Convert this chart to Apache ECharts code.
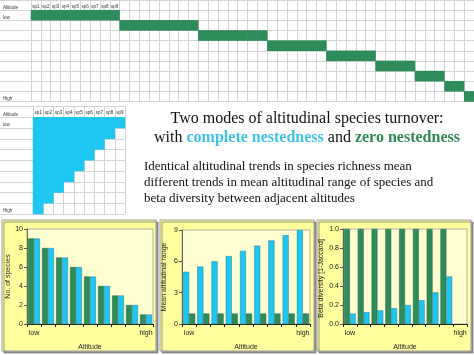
<!DOCTYPE html>
<html><head><meta charset="utf-8">
<script src="https://cdn.jsdelivr.net/npm/echarts@6/dist/echarts.min.js"></script>
<style>html,body{margin:0;padding:0;background:#fff}#c{width:474px;height:355px}</style>
</head><body><div id="c"></div><script>
// ---- data ----
const speciesHeaders = ['sp1','sp2','sp3','sp4','sp5','sp6','sp7','sp8','sp9'];
const tableRowLabels = ['Altitude','low','','','','','','','','High'];
const zeroNestRichness = [9,8,7,6,5,4,3,2,1];      // species per altitude, zero nestedness table
const nestedRichness = [9,8,7,6,5,4,3,2,1];        // species per altitude, complete nestedness table
const altitudeCats = ['low','','','','','','','','high'];
const richGreen = [9,8,7,6,5,4,3,2,1];
const richBlue = [9,8,7,6,5,4,3,2,1];
const rangeBlue = [5,5.5,6,6.5,7,7.5,8,8.5,9];
const rangeGreen = [1,1,1,1,1,1,1,1,1];
const betaGreen = [1,1,1,1,1,1,1,1,null];
const betaBlue = [0.11,0.125,0.143,0.167,0.2,0.25,0.333,0.5,null];

const GREEN = '#2e8b5a', BLUE = '#1ec6f2', LINE = '#d4d4d4';
const SANS = 'Liberation Sans, Arial, sans-serif', SERIF = 'Liberation Serif, Times New Roman, serif';

// build table cells
const totalSpecies = zeroNestRichness.reduce((a,b)=>a+b,0);
const topX = []; for (let i=0;i<totalSpecies;i++) topX.push(i<speciesHeaders.length?speciesHeaders[i]:'');
const topCells = []; let start = 0;
zeroNestRichness.forEach((n,r)=>{ for(let c=start;c<start+n;c++) topCells.push([c,r+1,1]); start+=n; });
const nestCells = [];
nestedRichness.forEach((n,r)=>{ for(let c=0;c<n;c++) nestCells.push([c,r+1,1]); });

const chart = echarts.init(document.getElementById('c'), null, {renderer:'canvas'});

const grids = [
  {left:0, top:0, width:474, height:101.5},                // 0 top table horizontal lines
  {left:29, top:0, width:445, height:101.5},               // 1 top table cells
  {left:0, top:106.5, width:125, height:107.5},            // 2 nested table horizontal lines
  {left:31, top:106.5, width:94, height:107.5},            // 3 nested table cells
  {left:27, top:229, width:126, height:95, show:true, backgroundColor:'#ffffd2', borderColor:'#a0a0a0', borderWidth:0.8},
  {left:182, top:230, width:128, height:94, show:true, backgroundColor:'#ffffd2', borderColor:'#a0a0a0', borderWidth:0.8},
  {left:343, top:229, width:124, height:95, show:true, backgroundColor:'#ffffd2', borderColor:'#a0a0a0', borderWidth:0.8}
];

const hidden = {show:false};
const lineSplit = {show:true, interval:0, lineStyle:{color:LINE, width:1}};
const tinyLbl = {fontSize:4.5, color:'#333', fontFamily:SANS};

function chartX(gi){
  return {type:'category', gridIndex:gi, data:altitudeCats, boundaryGap:true,
    axisLine:{lineStyle:{color:'#222', width:1}},
    axisTick:{show:true, interval:0, length:3, lineStyle:{color:'#222'}},
    axisLabel:{interval:0, fontSize:7, color:'#222', fontFamily:SANS, margin:6},
    name:'Altitude', nameLocation:'middle', nameGap:20, nameTextStyle:{fontSize:7, color:'#222', fontFamily:SANS}};
}
function chartY(gi, max, interval, name, gap, fmt){
  return {type:'value', gridIndex:gi, min:0, max:max, interval:interval,
    axisLine:{show:true, lineStyle:{color:'#666', width:1}},
    axisTick:{show:true, length:3, lineStyle:{color:'#555'}},
    axisLabel:{fontSize:7, color:'#222', fontFamily:SANS, margin:4, formatter:fmt},
    splitLine:{show:false},
    name:name, nameLocation:'middle', nameRotate:90, nameGap:gap, nameTextStyle:{fontSize:7, color:'#222', fontFamily:SANS}};
}
function panel(x){
  return {type:'rect', z:-5, shape:{x:x, y:220, width:154, height:131},
    style:{fill:'#ffff9e', stroke:'#9c9c9c', lineWidth:1, shadowBlur:0, shadowOffsetX:2, shadowOffsetY:2, shadowColor:'rgba(90,90,90,0.6)'}};
}

const option = {
  animation:false,
  grid: grids,
  xAxis: [
    {type:'value', gridIndex:0, min:0, max:1, show:false},
    {type:'category', gridIndex:1, data:topX, position:'top', boundaryGap:true,
      axisLine:hidden, axisTick:hidden, splitLine:lineSplit,
      axisLabel:Object.assign({inside:true, interval:0, margin:4, verticalAlign:'top'}, tinyLbl)},
    {type:'value', gridIndex:2, min:0, max:1, show:false},
    {type:'category', gridIndex:3, data:speciesHeaders, position:'top', boundaryGap:true,
      axisLine:hidden, axisTick:hidden, splitLine:lineSplit,
      axisLabel:Object.assign({inside:true, interval:0, margin:4, verticalAlign:'top'}, tinyLbl)},
    chartX(4), chartX(5), chartX(6)
  ],
  yAxis: [
    {type:'category', gridIndex:0, data:tableRowLabels, inverse:true, axisLine:hidden, axisTick:hidden, axisLabel:hidden, splitLine:lineSplit},
    {type:'category', gridIndex:1, data:tableRowLabels, inverse:true, axisLine:hidden, axisTick:hidden, splitLine:{show:false},
      axisLabel:Object.assign({interval:0, align:'left', margin:28, verticalAlign:'top'}, tinyLbl)},
    {type:'category', gridIndex:2, data:tableRowLabels, inverse:true, axisLine:hidden, axisTick:hidden, axisLabel:hidden, splitLine:lineSplit},
    {type:'category', gridIndex:3, data:tableRowLabels, inverse:true, axisLine:hidden, axisTick:hidden, splitLine:{show:false},
      axisLabel:Object.assign({interval:0, align:'left', margin:30, verticalAlign:'top'}, tinyLbl)},
    chartY(4, 10, 2, 'No. of species', 15),
    chartY(5, 9, 3, 'Mean altitudinal range', 14),
    chartY(6, 1, 0.2, 'Beta diversity [1-Jaccard] .', 18, v=>v.toFixed(1))
  ],
  graphic: [
    panel(2), panel(160), panel(317),
    {type:'text', x:307, y:109, style:{
      text:'{n|Two modes of altitudinal species turnover:}\n{n|with }{c|complete nestedness}{n| and }{z|zero nestedness}',
      align:'center', verticalAlign:'top',
      rich:{
        n:{fontFamily:SERIF, fontSize:16, fill:'#111', lineHeight:19},
        c:{fontFamily:SERIF, fontSize:16, fontWeight:'bold', fill:'#3fc3e8', lineHeight:19},
        z:{fontFamily:SERIF, fontSize:16, fontWeight:'bold', fill:'#2e8b57', lineHeight:19}
      }}},
    {type:'text', x:144, y:159, style:{
      text:'Identical altitudinal trends in species richness mean\ndifferent trends in mean altitudinal range of species and\nbeta diversity between adjacent altitudes',
      align:'left', verticalAlign:'top', fontFamily:SERIF, fontSize:13, lineHeight:16, fill:'#111'}}
  ],
  series: [
    {type:'heatmap', xAxisIndex:1, yAxisIndex:1, data:topCells, itemStyle:{color:GREEN}},
    {type:'heatmap', xAxisIndex:3, yAxisIndex:3, data:nestCells, itemStyle:{color:BLUE}},
    {type:'bar', xAxisIndex:4, yAxisIndex:4, data:richGreen, barGap:'0%', barCategoryGap:'15%', itemStyle:{color:GREEN, borderColor:'#245f40', borderWidth:0.5}},
    {type:'bar', xAxisIndex:4, yAxisIndex:4, data:richBlue, barGap:'0%', barCategoryGap:'15%', itemStyle:{color:BLUE, borderColor:'#2a7d9a', borderWidth:0.5}},
    {type:'bar', xAxisIndex:5, yAxisIndex:5, data:rangeBlue, barGap:'0%', barCategoryGap:'15%', itemStyle:{color:BLUE, borderColor:'#2a7d9a', borderWidth:0.5}},
    {type:'bar', xAxisIndex:5, yAxisIndex:5, data:rangeGreen, barGap:'0%', barCategoryGap:'15%', itemStyle:{color:GREEN, borderColor:'#245f40', borderWidth:0.5}},
    {type:'bar', xAxisIndex:6, yAxisIndex:6, data:betaGreen, barGap:'0%', barCategoryGap:'15%', itemStyle:{color:GREEN, borderColor:'#245f40', borderWidth:0.5}},
    {type:'bar', xAxisIndex:6, yAxisIndex:6, data:betaBlue, barGap:'0%', barCategoryGap:'15%', itemStyle:{color:BLUE, borderColor:'#2a7d9a', borderWidth:0.5}}
  ]
};
chart.setOption(option);
</script></body></html>
